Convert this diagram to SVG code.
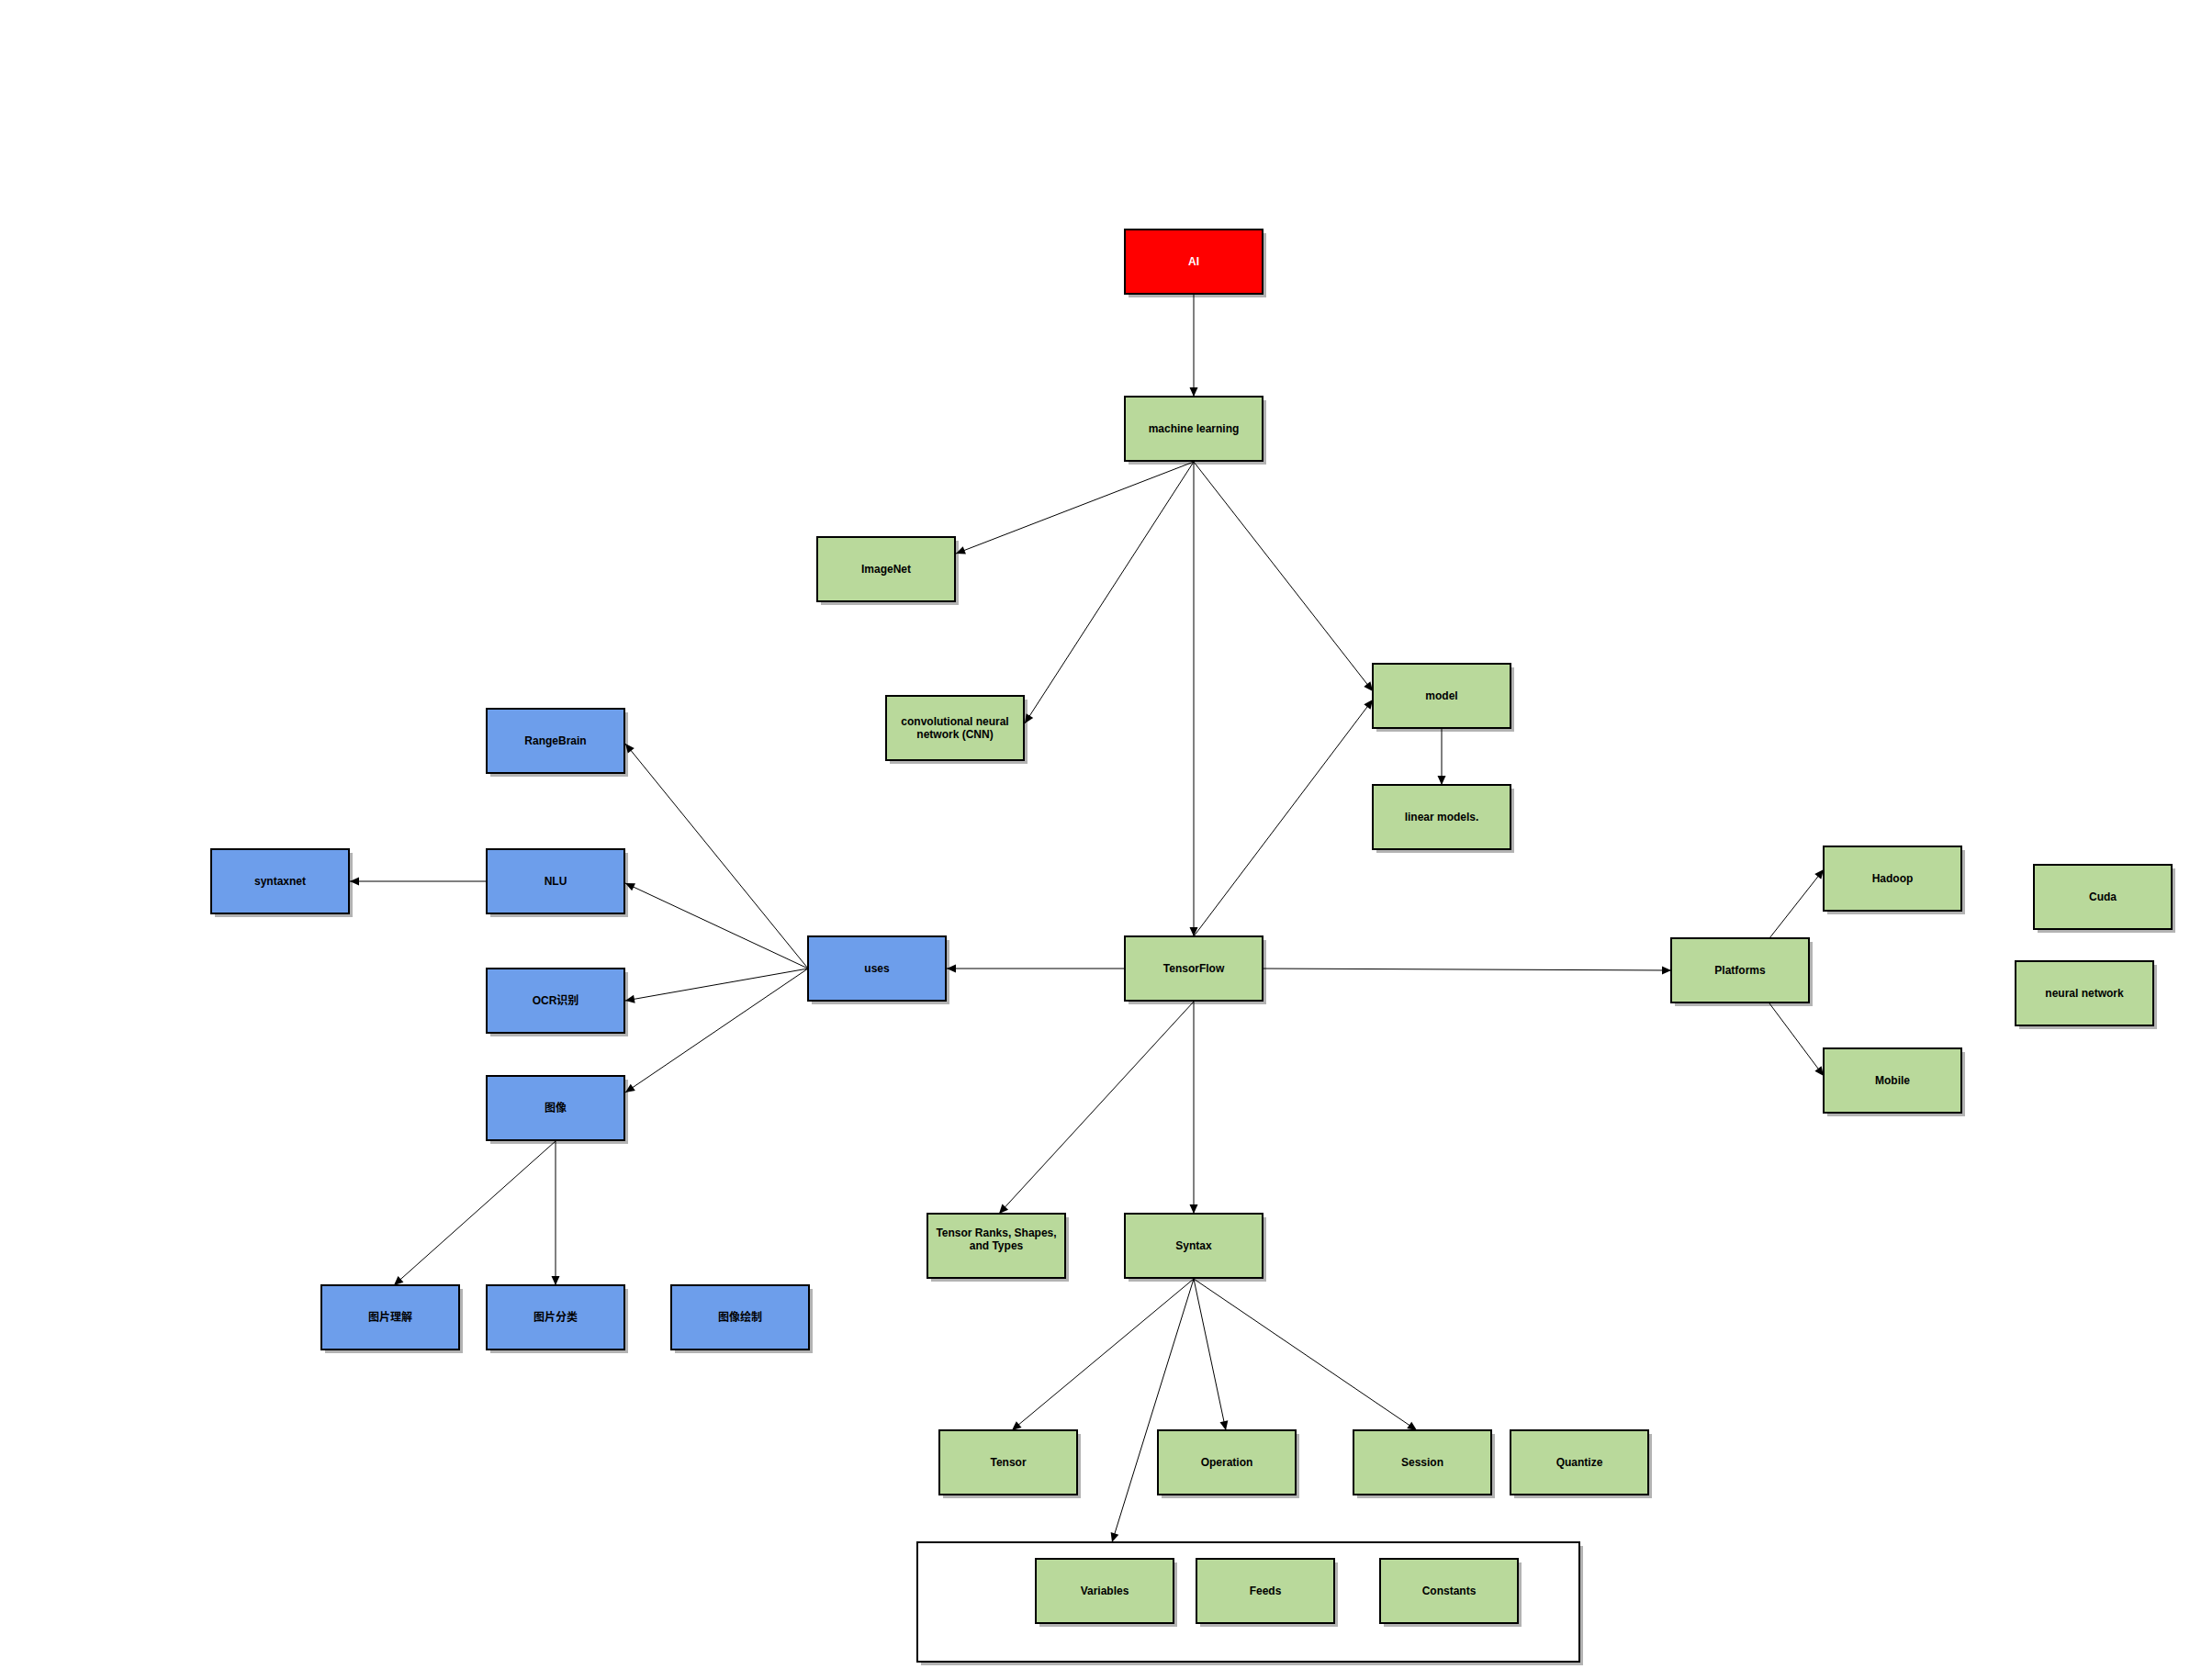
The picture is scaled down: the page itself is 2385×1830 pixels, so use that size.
<svg xmlns="http://www.w3.org/2000/svg" width="2385" height="1830" viewBox="0 0 2385 1830">
<style>
.sh{fill:#b3b3b3}
.g{fill:#b9d99b;stroke:#000;stroke-width:2}
.b{fill:#6d9eeb;stroke:#000;stroke-width:2}
.r{fill:#ff0000;stroke:#000;stroke-width:2}
.w{fill:#ffffff;stroke:#000;stroke-width:2}
text{font-family:"Liberation Sans","Noto Sans CJK SC",sans-serif;font-size:12px;font-weight:bold;fill:#000;text-anchor:middle}
.wt{fill:#fff}
.e path{fill:none;stroke:#000;stroke-width:1;marker-end:url(#a)}
</style>
<defs>
<marker id="a" markerUnits="userSpaceOnUse" markerWidth="11" markerHeight="10" refX="10" refY="5" orient="auto" overflow="visible">
<path d="M0,0.5 L10,5 L0,9.5 z" fill="#000"/>
</marker>
</defs>
<rect width="2385" height="1830" fill="#fff"/>
<g id="container"><rect class="sh" x="1003" y="1684" width="721" height="130"/><rect class="w" x="999" y="1680" width="721" height="130"/></g>
<g id="ai"><rect class="sh" x="1229" y="254" width="150" height="70"/><rect class="r" x="1225" y="250" width="150" height="70"/><text class="wt" x="1300" y="289">AI</text></g>
<g id="ml"><rect class="sh" x="1229" y="436" width="150" height="70"/><rect class="g" x="1225" y="432" width="150" height="70"/><text x="1300" y="471">machine learning</text></g>
<g id="imagenet"><rect class="sh" x="894" y="589" width="150" height="70"/><rect class="g" x="890" y="585" width="150" height="70"/><text x="965" y="624">ImageNet</text></g>
<g id="cnn"><rect class="sh" x="969" y="762" width="150" height="70"/><rect class="g" x="965" y="758" width="150" height="70"/><text x="1040" y="790">convolutional neural</text><text x="1040" y="804">network (CNN)</text></g>
<g id="model"><rect class="sh" x="1499" y="727" width="150" height="70"/><rect class="g" x="1495" y="723" width="150" height="70"/><text x="1570" y="762">model</text></g>
<g id="linear"><rect class="sh" x="1499" y="859" width="150" height="70"/><rect class="g" x="1495" y="855" width="150" height="70"/><text x="1570" y="894">linear models.</text></g>
<g id="rangebrain"><rect class="sh" x="534" y="776" width="150" height="70"/><rect class="b" x="530" y="772" width="150" height="70"/><text x="605" y="811">RangeBrain</text></g>
<g id="syntaxnet"><rect class="sh" x="234" y="929" width="150" height="70"/><rect class="b" x="230" y="925" width="150" height="70"/><text x="305" y="964">syntaxnet</text></g>
<g id="nlu"><rect class="sh" x="534" y="929" width="150" height="70"/><rect class="b" x="530" y="925" width="150" height="70"/><text x="605" y="964">NLU</text></g>
<g id="ocr"><rect class="sh" x="534" y="1059" width="150" height="70"/><rect class="b" x="530" y="1055" width="150" height="70"/><text x="605" y="1094">OCR识别</text></g>
<g id="tuxiang"><rect class="sh" x="534" y="1176" width="150" height="70"/><rect class="b" x="530" y="1172" width="150" height="70"/><text x="605" y="1211">图像</text></g>
<g id="uses"><rect class="sh" x="884" y="1024" width="150" height="70"/><rect class="b" x="880" y="1020" width="150" height="70"/><text x="955" y="1059">uses</text></g>
<g id="tensorflow"><rect class="sh" x="1229" y="1024" width="150" height="70"/><rect class="g" x="1225" y="1020" width="150" height="70"/><text x="1300" y="1059">TensorFlow</text></g>
<g id="platforms"><rect class="sh" x="1824" y="1026" width="150" height="70"/><rect class="g" x="1820" y="1022" width="150" height="70"/><text x="1895" y="1061">Platforms</text></g>
<g id="hadoop"><rect class="sh" x="1990" y="926" width="150" height="70"/><rect class="g" x="1986" y="922" width="150" height="70"/><text x="2061" y="961">Hadoop</text></g>
<g id="mobile"><rect class="sh" x="1990" y="1146" width="150" height="70"/><rect class="g" x="1986" y="1142" width="150" height="70"/><text x="2061" y="1181">Mobile</text></g>
<g id="cuda"><rect class="sh" x="2219" y="946" width="150" height="70"/><rect class="g" x="2215" y="942" width="150" height="70"/><text x="2290" y="981">Cuda</text></g>
<g id="nn"><rect class="sh" x="2199" y="1051" width="150" height="70"/><rect class="g" x="2195" y="1047" width="150" height="70"/><text x="2270" y="1086">neural network</text></g>
<g id="tupianlijie"><rect class="sh" x="354" y="1404" width="150" height="70"/><rect class="b" x="350" y="1400" width="150" height="70"/><text x="425" y="1439">图片理解</text></g>
<g id="tupianfenlei"><rect class="sh" x="534" y="1404" width="150" height="70"/><rect class="b" x="530" y="1400" width="150" height="70"/><text x="605" y="1439">图片分类</text></g>
<g id="tuxianghuizhi"><rect class="sh" x="735" y="1404" width="150" height="70"/><rect class="b" x="731" y="1400" width="150" height="70"/><text x="806" y="1439">图像绘制</text></g>
<g id="tensorranks"><rect class="sh" x="1014" y="1326" width="150" height="70"/><rect class="g" x="1010" y="1322" width="150" height="70"/><text x="1085" y="1347">Tensor Ranks, Shapes,</text><text x="1085" y="1361">and Types</text></g>
<g id="syntax"><rect class="sh" x="1229" y="1326" width="150" height="70"/><rect class="g" x="1225" y="1322" width="150" height="70"/><text x="1300" y="1361">Syntax</text></g>
<g id="tensor"><rect class="sh" x="1027" y="1562" width="150" height="70"/><rect class="g" x="1023" y="1558" width="150" height="70"/><text x="1098" y="1597">Tensor</text></g>
<g id="operation"><rect class="sh" x="1265" y="1562" width="150" height="70"/><rect class="g" x="1261" y="1558" width="150" height="70"/><text x="1336" y="1597">Operation</text></g>
<g id="session"><rect class="sh" x="1478" y="1562" width="150" height="70"/><rect class="g" x="1474" y="1558" width="150" height="70"/><text x="1549" y="1597">Session</text></g>
<g id="quantize"><rect class="sh" x="1649" y="1562" width="150" height="70"/><rect class="g" x="1645" y="1558" width="150" height="70"/><text x="1720" y="1597">Quantize</text></g>
<g id="variables"><rect class="sh" x="1132" y="1702" width="150" height="70"/><rect class="g" x="1128" y="1698" width="150" height="70"/><text x="1203" y="1737">Variables</text></g>
<g id="feeds"><rect class="sh" x="1307" y="1702" width="150" height="70"/><rect class="g" x="1303" y="1698" width="150" height="70"/><text x="1378" y="1737">Feeds</text></g>
<g id="constants"><rect class="sh" x="1507" y="1702" width="150" height="70"/><rect class="g" x="1503" y="1698" width="150" height="70"/><text x="1578" y="1737">Constants</text></g>
<g class="e" id="connectors">
<path d="M1300,321 L1300,432"/>
<path d="M1300,503 L1041,603"/>
<path d="M1300,503 L1116,788"/>
<path d="M1300,503 L1300,1020"/>
<path d="M1300,503 L1495,753"/>
<path d="M1300,1020 L1495,762"/>
<path d="M1570,794 L1570,855"/>
<path d="M1225,1055 L1031,1055"/>
<path d="M880,1055 L681,810"/>
<path d="M880,1055 L681,962"/>
<path d="M880,1055 L681,1090"/>
<path d="M880,1055 L681,1190"/>
<path d="M530,960 L381,960"/>
<path d="M605,1243 L429,1400"/>
<path d="M605,1243 L605,1400"/>
<path d="M1376,1055 L1820,1057"/>
<path d="M1927,1022 L1986,947"/>
<path d="M1927,1093 L1986,1172"/>
<path d="M1300,1091 L1088,1322"/>
<path d="M1300,1091 L1300,1322"/>
<path d="M1300,1393 L1102,1558"/>
<path d="M1300,1393 L1211,1680"/>
<path d="M1300,1393 L1335,1558"/>
<path d="M1300,1393 L1543,1558"/>
</g>
</svg>
